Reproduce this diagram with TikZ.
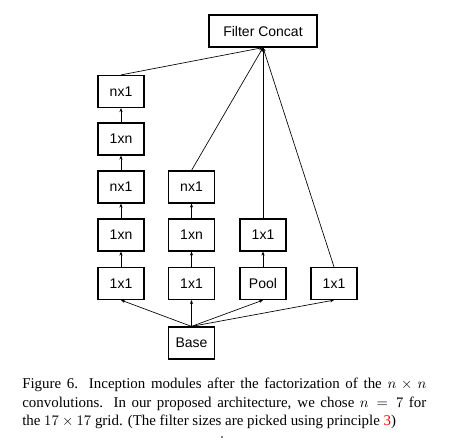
\documentclass[tikz,border=0pt]{standalone}
\usepackage{fontspec}
\setmainfont{Liberation Serif}
\newfontfamily\boxfont{Liberation Sans}
\usetikzlibrary{arrows.meta}
\begin{document}
\begin{tikzpicture}[x={(0.75pt,0)},y={(0,-0.75pt)},
  blk/.style={draw,line width=0.9pt,minimum width=34.5pt,minimum height=24pt,inner sep=0pt,font=\boxfont\fontsize{10.5}{12}\selectfont},
  conn/.style={line width=0.5pt,-{Stealth[length=3pt,width=2.4pt]}}]
\useasboundingbox (0,0) rectangle (459,443);
\node[blk,minimum width=81pt] (concat) at (263,31) {Filter Concat};
% column 1
\node[blk] (a5) at (121,91.5) {nx1};
\node[blk] (a4) at (121,139) {1xn};
\node[blk] (a3) at (121,187) {nx1};
\node[blk] (a2) at (121,235) {1xn};
\node[blk] (a1) at (121,283.5) {1x1};
% column 2
\node[blk] (b3) at (191.5,187) {nx1};
\node[blk] (b2) at (191.5,235) {1xn};
\node[blk] (b1) at (191.5,283.5) {1x1};
% column 3
\node[blk] (c2) at (263,235) {1x1};
\node[blk] (c1) at (263,283.5) {Pool};
% column 4
\node[blk] (d1) at (334,283.5) {1x1};
% base
\node[blk] (base) at (191.5,343) {Base};
% connectors
\draw[conn] (a1) -- (a2);
\draw[conn] (a2) -- (a3);
\draw[conn] (a3) -- (a4);
\draw[conn] (a4) -- (a5);
\draw[conn] (b1) -- (b2);
\draw[conn] (b2) -- (b3);
\draw[conn] (c1) -- (c2);
\draw[conn] (a5.north) -- (concat.south);
\draw[conn] (b3.north) -- (concat.south);
\draw[conn] (c2.north) -- (concat.south);
\draw[conn] (d1.north) -- (concat.south);
\draw[conn] (base.north) -- (a1.south);
\draw[conn] (base.north) -- (b1.south);
\draw[conn] (base.north) -- (c1.south);
\draw[conn] (base.north) -- (d1.south);
% caption
\node[anchor=north west,inner sep=0pt,text width=303pt,align=justify,
  font=\fontsize{11.2}{13.9}\selectfont] (cap) at (22,378)
{Figure 6. Inception modules after the factorization of the $n\times n$\linebreak
convolutions. In our proposed architecture, we chose $n=7$ for\linebreak
the $17\times17$ grid. (The filter sizes are picked using principle \textcolor{red}{3})};
\fill (222,437) circle[radius=0.9];
\end{tikzpicture}
\end{document}
